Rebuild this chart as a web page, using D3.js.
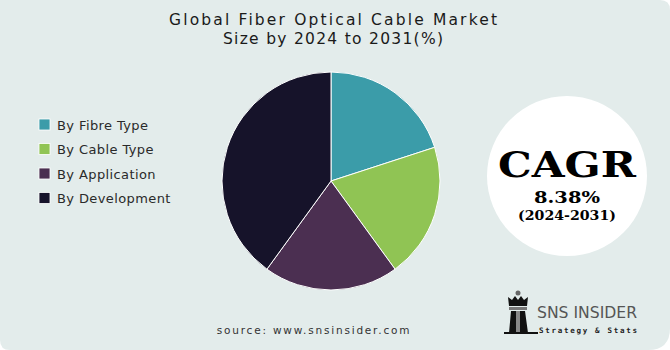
<!DOCTYPE html>
<html>
<head>
<meta charset="utf-8">
<script src="https://cdn.jsdelivr.net/npm/d3@7"></script>
<style>
  body { margin: 0; background: #fff; }
</style>
</head>
<body>
<script>
const m = {
  width: 670,
  height: 350
}

// data
const segments = ["By Fibre Type", "By Cable Type", "By Application", "By Development"];
const shares = [20, 20, 20, 40];
const colors = ["#3b9ca9", "#90c454", "#4b2f51", "#16132a"];
const titleLines = ["Global Fiber Optical Cable Market", "Size by 2024 to 2031(%)"];
const cagrLines = ["CAGR", "8.38%", "(2024-2031)"];

let svg = d3.select("body")
  .append("svg")
  .attr("width", m.width)
  .attr("height", m.height);

// card background, rounded on three corners
let w = m.width, h = m.height;
svg.append("path")
  .attr("fill", "#e3eceb")
  .attr("d", `M0,0 H${w - 10} Q${w},0 ${w},10 V${h - 22} Q${w},${h} ${w - 22},${h} H10 Q0,${h} 0,${h - 10} Z`);

// title
svg.append("g").selectAll("text")
  .data(titleLines)
  .enter()
  .append("text")
  .attr("x", 333)
  .attr("y", (d, i) => 25 + i * 19)
  .attr("text-anchor", "middle")
  .attr("font-family", "'DejaVu Sans', sans-serif")
  .attr("font-size", 15.5)
  .attr("textLength", (d, i) => [328, 220][i])
  .attr("lengthAdjust", "spacing")
  .attr("fill", "#1a1a1a")
  .text(d => d);

// pie
let pie = d3.pie().sort(null).startAngle(0).endAngle(2 * Math.PI);
let arc = d3.arc().innerRadius(0).outerRadius(109);
let pieG = svg.append("g").attr("transform", "translate(331,181)");
pieG.selectAll("path")
  .data(pie(shares))
  .enter()
  .append("path")
  .attr("d", arc)
  .attr("fill", (d, i) => colors[i])
  .attr("stroke", "#ffffff")
  .attr("stroke-width", 1);

// legend
let legend = svg.append("g");
let rowY = d3.scaleBand().domain(segments).range([117, 215]);
legend.selectAll("rect")
  .data(segments)
  .enter()
  .append("rect")
  .attr("x", 39)
  .attr("y", d => rowY(d) + 2)
  .attr("width", 11)
  .attr("height", 11)
  .attr("fill", (d, i) => colors[i])
  .attr("stroke", "#ffffff")
  .attr("stroke-width", 0.8);
legend.selectAll("text")
  .data(segments)
  .enter()
  .append("text")
  .attr("x", 57)
  .attr("y", d => rowY(d) + 12.5)
  .attr("font-family", "'DejaVu Sans', sans-serif")
  .attr("font-size", 13)
  .attr("letter-spacing", 0.4)
  .attr("fill", "#2a2a2a")
  .text(d => d);

// CAGR bubble
let cagr = svg.append("g");
cagr.append("circle")
  .attr("cx", 567)
  .attr("cy", 176)
  .attr("r", 80)
  .attr("fill", "#ffffff");
cagr.selectAll("text")
  .data(cagrLines)
  .enter()
  .append("text")
  .attr("x", 567)
  .attr("y", (d, i) => [177, 202.5, 220][i])
  .attr("text-anchor", "middle")
  .attr("font-family", "'DejaVu Serif', serif")
  .attr("font-weight", "bold")
  .attr("font-size", (d, i) => [36, 16.5, 12][i])
  .attr("textLength", (d, i) => [138, 66, 98][i])
  .attr("lengthAdjust", "spacingAndGlyphs")
  .attr("fill", "#000")
  .text(d => d);

// source
svg.append("text")
  .attr("x", 314)
  .attr("y", 334)
  .attr("text-anchor", "middle")
  .attr("font-family", "'DejaVu Sans', sans-serif")
  .attr("font-size", 10.5)
  .attr("letter-spacing", 1.8)
  .attr("fill", "#333")
  .text("source: www.snsinsider.com");

// logo
let logo = svg.append("g");
logo.append("circle").attr("cx", 518).attr("cy", 293).attr("r", 2.5).attr("fill", "#666");
logo.append("path")
  .attr("fill", "#111")
  .attr("d", "M508,297 L512,300 L515,296 L518,300 L521,296 L524,300 L528,297 L527,306 L509,306 Z");
logo.append("rect").attr("x", 509).attr("y", 307).attr("width", 18).attr("height", 3).attr("fill", "#777");
logo.append("path")
  .attr("fill", "#111")
  .attr("d", "M511,311 H516 V333 H509 Z M520,311 H525 L528,333 H520 Z");
logo.append("rect").attr("x", 516).attr("y", 311).attr("width", 4).attr("height", 22).attr("fill", "#888");
logo.append("rect").attr("x", 504).attr("y", 332).attr("width", 34).attr("height", 2).attr("fill", "#111");
logo.append("text")
  .attr("x", 537)
  .attr("y", 318)
  .attr("font-family", "'DejaVu Sans', sans-serif")
  .attr("font-size", 16)
  .attr("textLength", 100)
  .attr("lengthAdjust", "spacingAndGlyphs")
  .attr("fill", "#555")
  .text("SNS INSIDER");
logo.append("text")
  .attr("x", 539)
  .attr("y", 333)
  .attr("font-family", "'DejaVu Sans Mono', monospace")
  .attr("font-weight", "bold")
  .attr("font-size", 7.5)
  .attr("textLength", 98)
  .attr("fill", "#222")
  .text("Strategy & Stats");
</script>
</body>
</html>
